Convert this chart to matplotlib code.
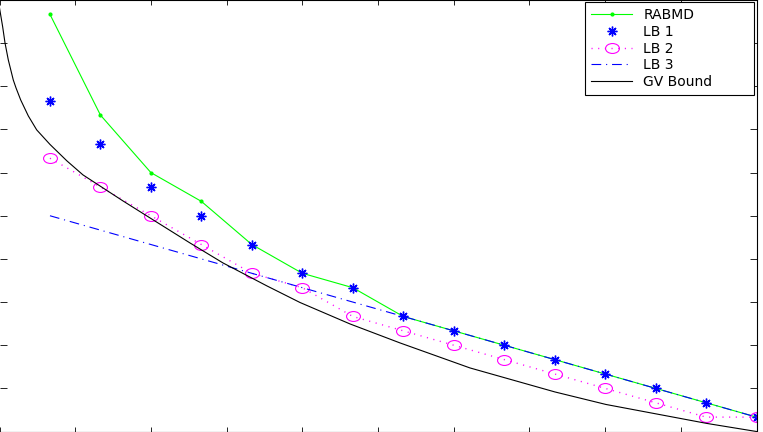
import numpy as np
import matplotlib
matplotlib.use("Agg")
import matplotlib.pyplot as plt
from matplotlib.path import Path
from matplotlib.transforms import Affine2D

plt.rcParams['font.family'] = ['DejaVu Sans']
plt.rcParams['lines.scale_dashes'] = False

# data
k = np.arange(1, 16)
rabmd = [29, 22, 18, 16, 13, 11, 10, 8, 7, 6, 5, 4, 3, 2, 1]
lb1 = [23, 20, 17, 15, 13, 11, 10, 8, 7, 6, 5, 4, 3, 2, 1]
lb2 = [19, 17, 15, 13, 11, 10, 8, 7, 6, 5, 4, 3, 2, 1, 1]
lb3 = [15, 14, 13, 12, 11, 10, 9, 8, 7, 6, 5, 4, 3, 2, 1]

# GV bound sampled along the drawn curve
gv_x = [0.0, 0.063, 0.109, 0.174, 0.273, 0.327, 0.420, 0.571, 0.737, 1.0, 1.337,
        1.654, 1.991, 2.447, 2.982, 3.774, 4.428, 5.30, 5.954, 6.944, 7.935,
        9.322, 11.006, 12.017, 14.018, 15.0]
gv_y = [29.45, 28.13, 27.02, 25.84, 24.44, 23.89, 23.05, 21.94, 20.97, 19.96, 18.81,
        17.84, 17.07, 16.03, 14.85, 13.11, 11.72, 10.12, 8.97, 7.48, 6.16,
        4.42, 2.75, 1.88, 0.56, 0.0]

# MATLAB-style figure was stretched sideways, so the circles look like ellipses
ellipse = Affine2D().scale(1.4, 1.0).transform_path(Path.unit_circle())

fig = plt.figure(figsize=(7.63, 4.32), dpi=100)
ax = fig.add_axes([-0.5 / 763, 0.5 / 432, 757 / 763, 431.5 / 432])

ax.plot(k, rabmd, '-', color=(0, 1, 0), lw=0.8, marker='.', markersize=4, label='RABMD')
ax.plot(k, lb1, linestyle='none', marker=(8, 2, 0), markersize=7, mec='blue', mew=1.0,
        color='blue', label='LB 1')
ax.plot(k, lb2, linestyle=(0, (0.8, 4)), color=(1, 0, 1), lw=1.0, marker=ellipse,
        markersize=10, mfc='none', mec=(1, 0, 1), mew=0.8, label='LB 2')
ax.plot(k, lb3, linestyle=(0, (7, 3.5, 0.8, 3.5)), color='blue', lw=0.8, label='LB 3')
ax.plot(gv_x, gv_y, '-', color='black', lw=0.8, label='GV Bound')

ax.set_xlim(0, 15)
ax.set_ylim(0, 30)
ax.set_xticks(np.arange(0, 15.1, 1.5))
ax.set_yticks(np.arange(0, 30.1, 3))
ax.tick_params(direction='in', width=0.6, top=True, right=True,
               labelbottom=False, labelleft=False)
ax.tick_params(axis='x', length=3.6)
ax.tick_params(axis='y', length=5)
ax.spines['left'].set_visible(False)
for s in ['top', 'right', 'bottom']:
    ax.spines[s].set_linewidth(0.8)

leg = ax.legend(loc='upper left', bbox_to_anchor=(585 / 763, 339 / 432, 169 / 763, 91 / 432),
                bbox_transform=fig.transFigure, mode='expand', fontsize=10,
                handlelength=2.95, labelspacing=0.19, borderpad=0.45, handletextpad=0.8,
                borderaxespad=0, fancybox=False, framealpha=1, edgecolor='black', numpoints=1)
leg.get_frame().set_linewidth(0.8)

fig.savefig('out.png', dpi=100)
